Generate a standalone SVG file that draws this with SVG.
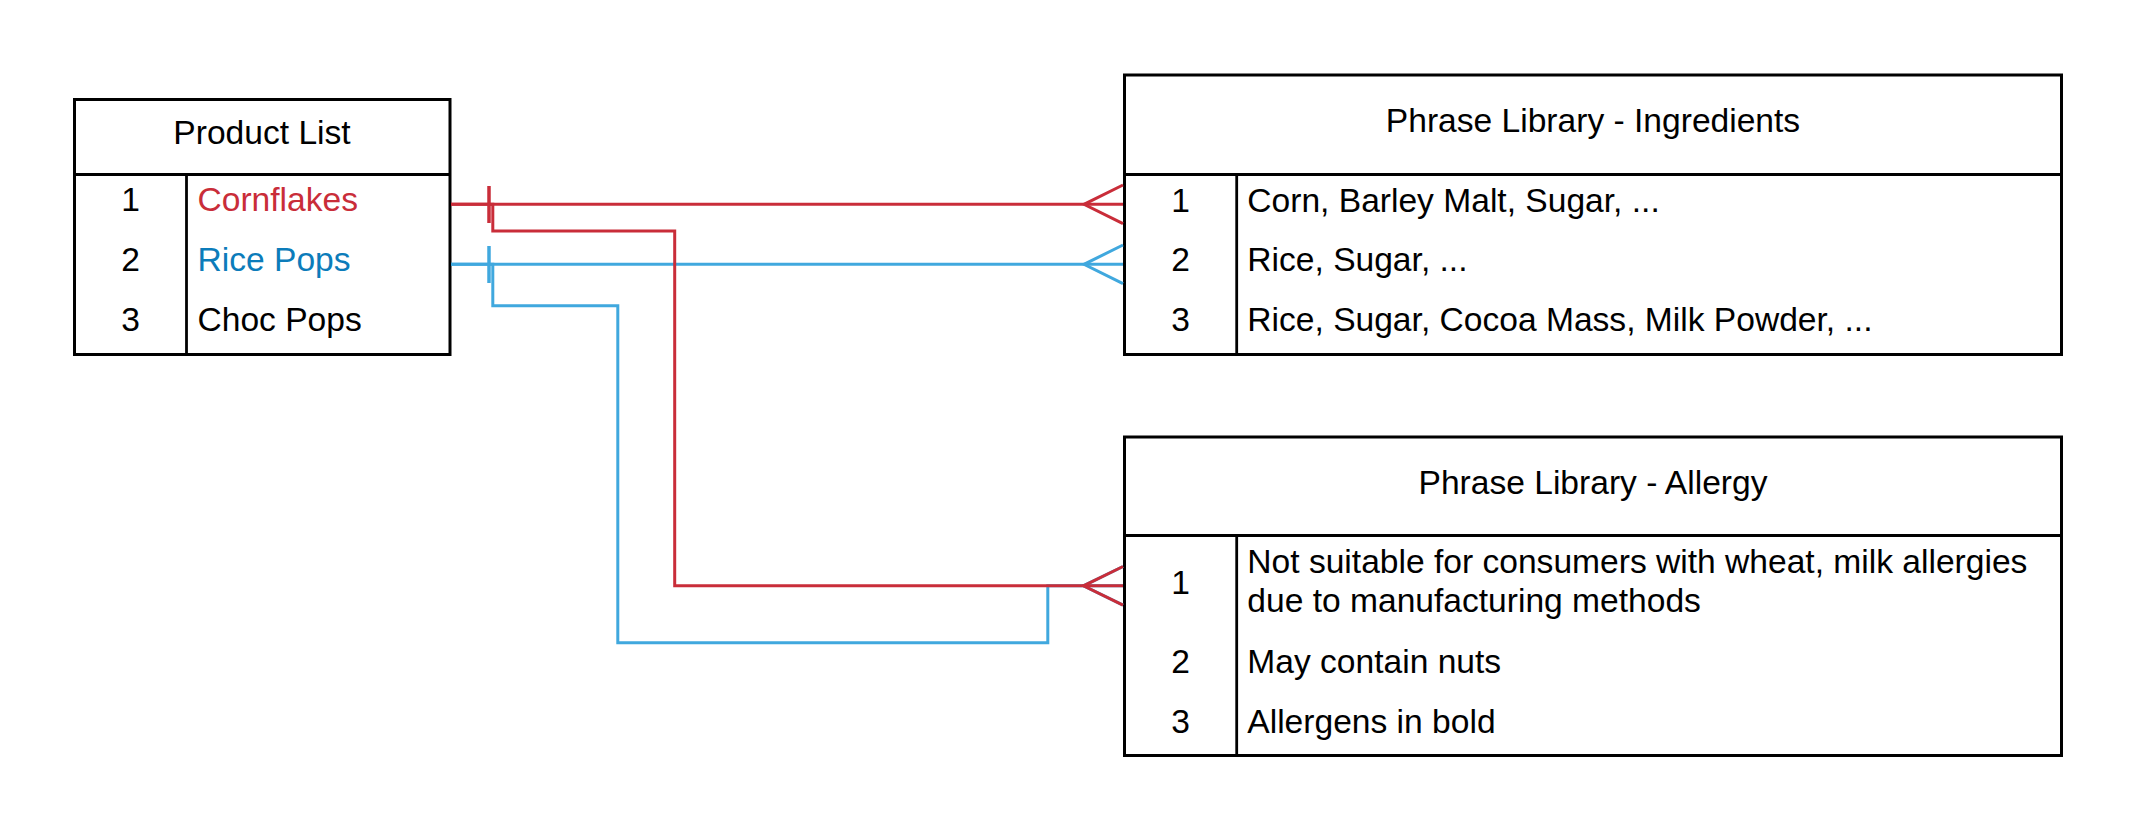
<svg xmlns="http://www.w3.org/2000/svg" width="2138" height="831" viewBox="0 0 2138 831">
<style>
.box{fill:#ffffff;stroke:#000000;stroke-width:3}
.sep{fill:none;stroke:#000000;stroke-width:2.8}
text{font-family:"Liberation Sans",Arial,sans-serif;font-size:33.6px;fill:#000000}
.c{text-anchor:middle}
.red{fill:#C92D39}
.blue{fill:#0C7CBA}
.er{fill:none;stroke-width:3;stroke-linejoin:miter;stroke-linecap:butt}
.r{stroke:#C92D39}
.b{stroke:#40A8DE}
</style>
<rect width="2138" height="831" fill="#ffffff"/>
<g id="product-list">
<rect class="box" x="74.5" y="99.5" width="375.5" height="255"/>
<line class="sep" x1="74.5" y1="174.5" x2="450" y2="174.5"/>
<line class="sep" x1="186.5" y1="174.5" x2="186.5" y2="354.5"/>
<text class="c" x="262" y="144.3">Product List</text>
<text class="c" x="130.5" y="211.3">1</text>
<text class="c" x="130.5" y="271.3">2</text>
<text class="c" x="130.5" y="331.3">3</text>
<text class="red" x="197.5" y="211.3">Cornflakes</text>
<text class="blue" x="197.5" y="271.3">Rice Pops</text>
<text x="197.5" y="331.3">Choc Pops</text>
</g>
<g id="ingredients">
<rect class="box" x="1124.5" y="75" width="937" height="279.5"/>
<line class="sep" x1="1124.5" y1="174.5" x2="2061.5" y2="174.5"/>
<line class="sep" x1="1236.7" y1="174.5" x2="1236.7" y2="354.5"/>
<text class="c" x="1593" y="132.3">Phrase Library - Ingredients</text>
<text class="c" x="1180.6" y="211.5">1</text>
<text class="c" x="1180.6" y="271.3">2</text>
<text class="c" x="1180.6" y="331.3">3</text>
<text x="1247.3" y="211.5">Corn, Barley Malt, Sugar, ...</text>
<text x="1247.3" y="271.3">Rice, Sugar, ...</text>
<text x="1247.3" y="331.3">Rice, Sugar, Cocoa Mass, Milk Powder, ...</text>
</g>
<g id="allergy">
<rect class="box" x="1124.5" y="437" width="937" height="318.5"/>
<line class="sep" x1="1124.5" y1="535.5" x2="2061.5" y2="535.5"/>
<line class="sep" x1="1236.7" y1="535.5" x2="1236.7" y2="755.5"/>
<text class="c" x="1593" y="493.8">Phrase Library - Allergy</text>
<text class="c" x="1180.6" y="593.5">1</text>
<text class="c" x="1180.6" y="673">2</text>
<text class="c" x="1180.6" y="732.7">3</text>
<text x="1247.3" y="573">Not suitable for consumers with wheat, milk allergies</text>
<text x="1247.3" y="612">due to manufacturing methods</text>
<text x="1247.3" y="673">May contain nuts</text>
<text x="1247.3" y="732.7">Allergens in bold</text>
</g>
<g id="connectors">
<g id="edge-rice-ingredients">
<path class="er b" d="M451 264.3 H1123"/>
<path class="er b" d="M1123 245 L1084 264.3 L1123 283.6"/>
<path class="er b" d="M489 246 V283"/>
</g>
<g id="edge-rice-allergy">
<path class="er b" d="M451 264.3 H492.8 V305.8 H617.8 V642.7 H1047.8 V585.8 H1123"/>
<path class="er b" d="M1123 566.5 L1083.5 585.8 L1123 605.1"/>
<path class="er b" d="M489 246 V283"/>
</g>
<g id="edge-cornflakes-ingredients">
<path class="er r" d="M451 204.3 H1123"/>
<path class="er r" d="M1123 185 L1084 204.3 L1123 223.6"/>
<path class="er r" d="M489 186 V223"/>
</g>
<g id="edge-cornflakes-allergy">
<path class="er r" d="M451 204.3 H492.8 V231 H674.7 V585.8 H1123"/>
<path class="er r" d="M1123 566.5 L1083.5 585.8 L1123 605.1"/>
<path class="er r" d="M489 186 V223"/>
</g>
</g>
</svg>
